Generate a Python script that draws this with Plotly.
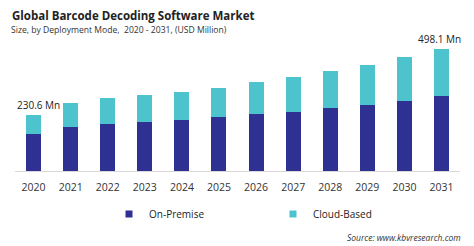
import plotly.graph_objects as go

years = ["2020", "2021", "2022", "2023", "2024", "2025",
         "2026", "2027", "2028", "2029", "2030", "2031"]
on_premise = [151.7, 181.6, 194.0, 201.0, 210.0, 220.0,
              232.0, 242.0, 257.0, 272.0, 288.0, 307.5]
cloud_based = [78.9, 98.4, 104.0, 109.0, 115.0, 120.0,
               132.0, 143.0, 153.0, 164.0, 178.0, 190.6]
label_first = "230.6 Mn"
label_last = "498.1 Mn"

DARK = "#2E3192"
CYAN = "#4DC3CE"
FONT = "Open Sans"

fig = go.Figure()
fig.add_trace(go.Bar(x=years, y=on_premise, name="On-Premise", showlegend=False,
                     marker=dict(color=DARK, line=dict(width=0))))
fig.add_trace(go.Bar(x=years, y=cloud_based, name="Cloud-Based", showlegend=False,
                     marker=dict(color=CYAN, line=dict(width=0))))
# legend entries with small square symbols
fig.add_trace(go.Scatter(x=[None], y=[None], mode="markers", name="On-Premise",
                         marker=dict(symbol="square", size=7, color=DARK)))
fig.add_trace(go.Scatter(x=[None], y=[None], mode="markers", name="Cloud-Based",
                         marker=dict(symbol="square", size=7, color=CYAN)))

tot_first = on_premise[0] + cloud_based[0]
tot_last = on_premise[-1] + cloud_based[-1]

annotations = [
    dict(x=0, y=tot_first, text=label_first, showarrow=False,
         xanchor="center", yanchor="bottom", xshift=5, yshift=1,
         font=dict(family=FONT, size=10, color="#222")),
    dict(x=len(years) - 1, y=tot_last, text=label_last, showarrow=False,
         xanchor="center", yanchor="bottom", xshift=-2, yshift=1,
         font=dict(family=FONT, size=10, color="#222")),
    dict(xref="paper", yref="paper", x=-0.011, y=(171 - 15) / 131,
         text="<b>Global Barcode Decoding Software Market</b>", showarrow=False,
         xanchor="left", yanchor="middle",
         font=dict(family=FONT, size=11.5, color="#222")),
    dict(xref="paper", yref="paper", x=-0.013, y=(171 - 30) / 131,
         text="Size, by Deployment Mode,  2020 - 2031, (USD Million)", showarrow=False,
         xanchor="left", yanchor="middle",
         font=dict(family=FONT, size=8.6, color="#333")),
    dict(xref="paper", yref="paper", x=(463 - 15) / 445, y=(171 - 237) / 131,
         text="<i>Source: www.kbvresearch.com</i>", showarrow=False,
         xanchor="right", yanchor="middle",
         font=dict(family=FONT, size=8.5, color="#333")),
]

fig.update_layout(
    width=474, height=246,
    margin=dict(l=15, r=14, t=40, b=75),
    barmode="stack",
    bargap=0.595,
    plot_bgcolor="white", paper_bgcolor="white",
    showlegend=True,
    legend=dict(orientation="h", x=(109 - 15) / 445, y=(171 - 214) / 131,
                xanchor="left", yanchor="middle",
                entrywidth=119, entrywidthmode="pixels",
                font=dict(family=FONT, size=10, color="#222"),
                itemwidth=30, traceorder="normal"),
    annotations=annotations,
    xaxis=dict(type="category", range=[-0.5, len(years) - 0.5],
               showline=True, linecolor="#d9d9d9", linewidth=1,
               ticks="outside", ticklen=6, tickcolor="rgba(0,0,0,0)",
               tickfont=dict(family=FONT, size=10.5, color="#333"),
               showgrid=False, fixedrange=True),
    yaxis=dict(visible=False, range=[0, 537], showgrid=False, fixedrange=True),
)

fig.write_html("out.html")
